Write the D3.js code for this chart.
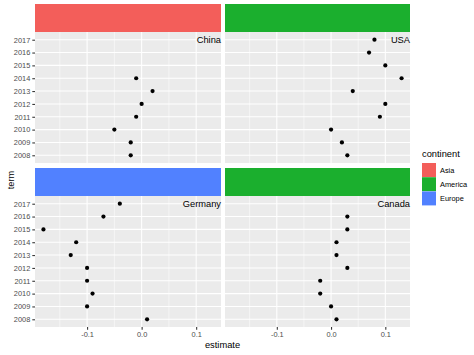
<!DOCTYPE html>
<html>
<head>
<meta charset="utf-8">
<script src="https://cdn.jsdelivr.net/npm/d3@7"></script>
<style>
  html, body { margin: 0; padding: 0; background: #fff; }
  svg { display: block; font-family: "Liberation Sans", Arial, sans-serif; }
</style>
</head>
<body>
<svg id="chart" width="474" height="355"></svg>
<script>
// ---- data ----
const years = [2008, 2009, 2010, 2011, 2012, 2013, 2014, 2015, 2016, 2017];
const countries = ["China", "USA", "Germany", "Canada"];
const countryContinent = ["Asia", "America", "Europe", "America"];
const continents = ["Asia", "America", "Europe"];
const continentColors = ["#F35E5A", "#1BAF2E", "#5181FF"];
const chinaEst   = [-0.02, -0.02, -0.05, -0.01, 0.00, 0.02, -0.01, null, null, null];
const usaEst     = [0.03, 0.02, 0.00, 0.09, 0.10, 0.04, 0.13, 0.10, 0.07, 0.08];
const germanyEst = [0.01, -0.10, -0.09, -0.10, -0.10, -0.13, -0.12, -0.18, -0.07, -0.04];
const canadaEst  = [0.01, 0.00, -0.02, -0.02, 0.03, 0.01, 0.01, 0.03, 0.03, null];
const xTicks = [-0.1, 0.0, 0.1];
const xMinorTicks = [-0.15, -0.05, 0.05];
const xTickLabels = ["-0.1", "0.0", "0.1"];

const series = [chinaEst, usaEst, germanyEst, canadaEst];

// ---- layout ----
const svg = d3.select("#chart");
const cols = [[35, 221], [225, 410]];
const rows = [{strip: [4, 32], panel: [32, 163]}, {strip: [168, 196], panel: [196, 327]}];

const allVals = series.flat().filter(v => v !== null);
const lo = d3.min(allVals), hi = d3.max(allVals);
const pad = (hi - lo) * 0.05;
const color = d3.scaleOrdinal().domain(continents).range(continentColors);

countries.forEach((c, i) => {
  const col = cols[i % 2], row = rows[Math.floor(i / 2)];
  const x = d3.scaleLinear().domain([lo - pad, hi + pad]).range(col);
  const y = d3.scalePoint().domain(years).range([row.panel[1], row.panel[0]]).padding(0.6);
  const g = svg.append("g");

  // strip
  g.append("rect").attr("x", col[0]).attr("y", row.strip[0])
    .attr("width", col[1] - col[0]).attr("height", row.strip[1] - row.strip[0])
    .attr("fill", color(countryContinent[i]));

  // panel bg
  g.append("rect").attr("x", col[0]).attr("y", row.panel[0])
    .attr("width", col[1] - col[0]).attr("height", row.panel[1] - row.panel[0])
    .attr("fill", "#EBEBEB");

  // minor grid
  g.selectAll(".minor").data(xMinorTicks).join("line")
    .attr("x1", d => x(d)).attr("x2", d => x(d))
    .attr("y1", row.panel[0]).attr("y2", row.panel[1])
    .attr("stroke", "#fff").attr("stroke-width", 0.55);
  // major grid
  g.selectAll(".majx").data(xTicks).join("line")
    .attr("x1", d => x(d)).attr("x2", d => x(d))
    .attr("y1", row.panel[0]).attr("y2", row.panel[1])
    .attr("stroke", "#fff").attr("stroke-width", 1.07);
  g.selectAll(".majy").data(years).join("line")
    .attr("x1", col[0]).attr("x2", col[1])
    .attr("y1", d => y(d)).attr("y2", d => y(d))
    .attr("stroke", "#fff").attr("stroke-width", 1.07);

  // points
  const pts = years.map((yr, k) => ({yr, v: series[i][k]})).filter(d => d.v !== null);
  g.selectAll(".pt").data(pts).join("circle")
    .attr("cx", d => x(d.v)).attr("cy", d => y(d.yr)).attr("r", 2.1).attr("fill", "#000");

  // country label
  g.append("text").attr("x", col[1]).attr("y", y(2017))
    .attr("text-anchor", "end").attr("dominant-baseline", "central")
    .attr("font-size", "9.3px").attr("fill", "#000").text(c);

  // y axis (left column)
  if (i % 2 === 0) {
    const ax = d3.axisLeft(y).tickSize(2.7).tickPadding(2).tickFormat(d3.format("d"));
    const a = g.append("g").attr("transform", `translate(${col[0]},0)`).call(ax);
    a.select(".domain").remove();
    a.selectAll(".tick line").attr("stroke", "#333").attr("stroke-width", 1.07);
    a.selectAll(".tick text").attr("fill", "#4D4D4D").attr("font-size", "7.4px")
      .attr("font-family", "Liberation Sans, Arial, sans-serif");
  }
  // x axis (bottom row)
  if (Math.floor(i / 2) === 1) {
    const ax = d3.axisBottom(x).tickValues(xTicks).tickSize(2.7).tickPadding(2)
      .tickFormat((d, k) => xTickLabels[k]);
    const a = g.append("g").attr("transform", `translate(0,${row.panel[1]})`).call(ax);
    a.select(".domain").remove();
    a.selectAll(".tick line").attr("stroke", "#333").attr("stroke-width", 1.07);
    a.selectAll(".tick text").attr("fill", "#4D4D4D").attr("font-size", "7.4px")
      .attr("font-family", "Liberation Sans, Arial, sans-serif");
  }
});

// axis titles
svg.append("text").attr("x", 222.5).attr("y", 345).attr("text-anchor", "middle")
  .attr("dominant-baseline", "central").attr("font-size", "9.3px").text("estimate");
svg.append("text").attr("transform", "translate(10.5,180) rotate(-90)")
  .attr("text-anchor", "middle").attr("dominant-baseline", "central")
  .attr("font-size", "9.3px").text("term");

// legend
const lg = svg.append("g");
lg.append("text").attr("x", 422).attr("y", 154).attr("dominant-baseline", "central")
  .attr("font-size", "9.3px").text("continent");
continents.forEach((ct, k) => {
  const top = 163 + k * 14.2;
  lg.append("rect").attr("x", 422).attr("y", top).attr("width", 14).attr("height", 14)
    .attr("fill", color(ct));
  lg.append("text").attr("x", 440).attr("y", top + 7).attr("dominant-baseline", "central")
    .attr("font-size", "7.4px").text(ct);
});
</script>
</body>
</html>
